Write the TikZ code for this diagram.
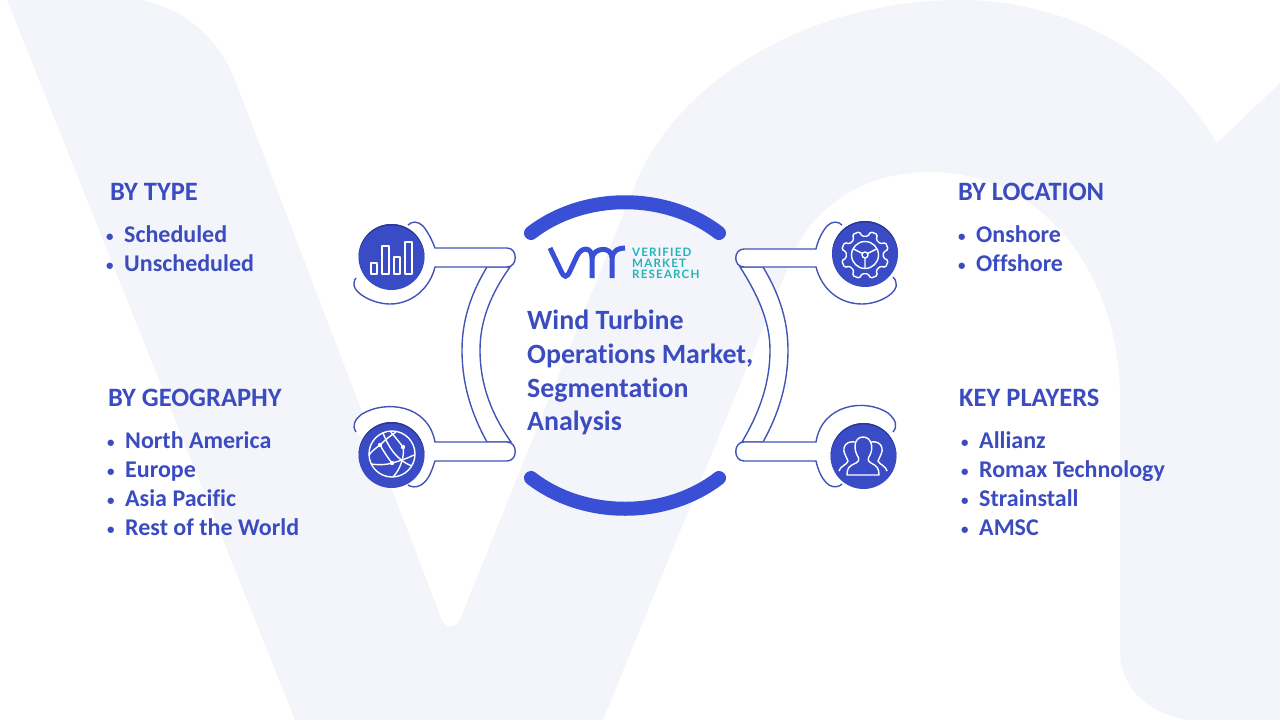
\documentclass[tikz,border=0pt]{standalone}
\usepackage{fontspec}
\setmainfont[Ligatures=CommonOff]{Carlito}
\newfontfamily\logofont[LetterSpace=10]{Lato Bold}
\usetikzlibrary{positioning}
\definecolor{bgtint}{HTML}{F3F5FB}
\definecolor{inkblue}{HTML}{3B4BC0}
\definecolor{arcblue}{HTML}{384FD6}
\definecolor{discblue}{HTML}{3A4BC6}
\definecolor{discdark}{HTML}{2A3794}
\definecolor{lineblue}{HTML}{4354B8}
\definecolor{logoteal}{HTML}{22B5B8}
\tikzset{
    head/.style = {anchor=base west,inner sep=0pt,text=inkblue,font=\fontsize{26.5}{30}\selectfont\bfseries},
    entry/.style = {anchor=base west,inner sep=0pt,text=inkblue,font=\fontsize{24}{28}\selectfont\bfseries},
    title/.style = {anchor=north west,inner sep=0pt,align=left,text=inkblue,font=\fontsize{27.9}{33.7}\selectfont\bfseries},
    brand/.style = {anchor=base west,inner sep=0pt,text=logoteal,font=\fontsize{11.6}{12}\logofont},
    disc/.style = {circle,fill=discblue,minimum size=66pt,inner sep=0pt,
      path picture={\draw[discdark,line width=3pt] ([yshift=-1.5pt]path picture bounding box.center) circle (34.5);}},
    handle/.style = {draw=lineblue,line width=1.4pt,fill=white},
    bigarc/.style = {draw=arcblue,line width=14pt,line cap=round},
    logoline/.style = {draw=arcblue,line width=5pt},
    glyph/.style = {draw=white,line width=1.4pt,line join=round}
}
\newcommand{\itm}[2]{\makebox[#1pt][l]{\raisebox{1pt}{\fontsize{15}{15}\selectfont •}}#2}
\begin{document}
\begin{tikzpicture}[x=1pt,y=-1pt]
\useasboundingbox (0,0) rectangle (1280,720);
% backdrop
\fill[bgtint] (7,0) -- (140,0) .. controls (185,8) and (218,38) .. (235,80) -- (440,615)
  .. controls (444,630) and (456,630) .. (461,617) -- (640,173)
  .. controls (690,70) and (820,0) .. (960,0) .. controls (1070,0) and (1165,55) .. (1217,143)
  -- (1280,83) -- (1280,720) -- (1190,720) .. controls (1150,715) and (1120,690) .. (1120,650)
  -- (1120,400) .. controls (1120,270) and (1040,172) .. (930,172)
  .. controls (870,172) and (820,200) .. (795,250) -- (603,720) -- (295,720) -- cycle;
% tubes
\draw[handle] (487,267) .. controls (470,295) and (462,322) .. (462,350) .. controls (462,385) and (472,415) .. (487,442)
  -- (511,442) .. controls (492,415) and (480,385) .. (480,350) .. controls (480,322) and (490,295) .. (510,267) -- cycle;
\draw[handle] (763,267) .. controls (780,295) and (788,322) .. (788,350) .. controls (788,385) and (778,415) .. (763,442)
  -- (742,442) .. controls (758,415) and (770,385) .. (770,350) .. controls (770,322) and (758,295) .. (740,267) -- cycle;
% handles
\draw[handle] (408,225) .. controls (412,221) and (418,221) .. (423,226) .. controls (428,232) and (432,240) .. (435,248)
  -- (507,248) .. controls (518,248) and (518,267) .. (507,267) -- (435,267)
  .. controls (430,288) and (412,304) .. (390,304) .. controls (372,304) and (352,292) .. (354,283) .. controls (354,281) and (355,279) .. (356,278);
\draw[handle] (356,432) .. controls (352,426) and (354,420) .. (362,414) .. controls (385,400) and (428,404) .. (435,442)
  -- (507,442) .. controls (518,442) and (518,461) .. (507,461) -- (435,461)
  .. controls (432,470) and (429,480) .. (421,485) .. controls (416,488) and (411,487) .. (408,485);
\draw[handle] (842,225) .. controls (838,221) and (832,221) .. (827,226) .. controls (822,232) and (818,240) .. (816,249)
  -- (744,249) .. controls (733,249) and (733,267) .. (744,267) -- (816,267)
  .. controls (822,290) and (840,304) .. (862,304) .. controls (880,304) and (899,292) .. (896,283) .. controls (896,281) and (895,279) .. (893,277);
\draw[handle] (893,432) .. controls (898,426) and (896,420) .. (888,413) .. controls (865,398) and (822,404) .. (816,442)
  -- (744,442) .. controls (733,442) and (733,461) .. (744,461) -- (816,461)
  .. controls (818,470) and (822,480) .. (829,485) .. controls (834,488) and (839,487) .. (842,484);
% big arcs
\draw[bigarc] (531,233) .. controls (584,192) and (666,192) .. (719,233);
\draw[bigarc] (531,478) .. controls (584,519) and (666,519) .. (719,478);
% discs
\node[disc] at (391.5,257) (bars) {};
\node[disc] at (391.5,455) (globe) {};
\node[disc] at (865,254) (gear) {};
\node[disc] at (863.5,456) (people) {};
% bars icon
\draw[glyph] (371,263) rectangle (377,274);
\draw[glyph] (382,246) rectangle (389,274);
\draw[glyph] (394,257) rectangle (400,274);
\draw[glyph] (405,242) rectangle (412,274);
% globe icon
\draw[glyph] (392,454) circle (23);
\draw[glyph] (380,445) .. controls (385,440) and (390,436) .. (396,432);
\draw[glyph] (380,445) .. controls (384,452) and (388,458) .. (392,463);
\draw[glyph] (371,464) .. controls (378,465) and (386,465) .. (392,463) .. controls (400,461) and (408,458) .. (414,455);
\draw[glyph] (369,455) .. controls (372,451) and (376,448) .. (380,445);
\draw[glyph] (390,431) .. controls (396,438) and (400,443) .. (403,447) .. controls (405,456) and (400,470) .. (393,477);
\draw[glyph] (383,433) .. controls (388,446) and (396,460) .. (412,466);
\fill[white] (380,445) circle (2.2) (403,447) circle (2.2) (392,463) circle (2.2);
% gear icon
\draw[glyph,rounded corners=1.5pt,shift={(865,255)}] (0:18) \foreach \a in {22.5,67.5,...,337.5} { -- (\a-13:19) -- (\a-9:24) -- (\a+9:24) -- (\a+13:19)} -- cycle;
\draw[glyph] (865,255) circle (13.5);
\draw[glyph] (865,255) circle (3);
\draw[glyph] (865,258) -- (865,268) (862.5,253.5) -- (853.5,249) (867.5,253.5) -- (876.5,249);
% people icon
\draw[glyph] (847,475) .. controls (847,468) and (849,466) .. (856,463) .. controls (860,461) and (859,458) .. (857,455)
  .. controls (853,447) and (855,437) .. (863,437) .. controls (871,437) and (874,447) .. (870,455)
  .. controls (868,458) and (867,461) .. (871,463) .. controls (877,466) and (879,468) .. (879,475) -- cycle;
\draw[glyph] (839,471) .. controls (840,466) and (847,465) .. (848,461) .. controls (846,456) and (843,452) .. (844,448) .. controls (845,443) and (850,441) .. (855,442);
\draw[glyph] (887,471) .. controls (886,466) and (880,465) .. (878,461) .. controls (880,456) and (883,452) .. (882,448) .. controls (881,443) and (876,441) .. (871,442);
% logo
\draw[logoline] (550,248) -- (561,271) .. controls (564,278) and (567,278) .. (570,271) -- (577,256) .. controls (581,247) and (592,246) .. (592,258) -- (592,278);
\draw[logoline] (592,258) .. controls (594,247) and (612,246) .. (612,258) -- (612,278);
\draw[logoline] (612,258) .. controls (613,250) and (619,248) .. (625,248);
\node[brand] at (632,256) (verified) {VERIFIED};
\node[brand] at (632,267) (market) {MARKET};
\node[brand] at (632,278) (research) {RESEARCH};
% title
\node[title] at (527,310) (headline) {Wind Turbine\\Operations Market,\\Segmentation\\Analysis};
% by type
\node[head] at (110,200) (bytype) {BY TYPE};
\node[entry] at (106,242) (scheduled) {\itm{18}{Scheduled}};
\node[entry] at (106,271) (unscheduled) {\itm{18}{Unscheduled}};
% by geography
\node[head] at (108,406) (bygeo) {BY GEOGRAPHY};
\node[entry] at (107,448) (namerica) {\itm{18}{North America}};
\node[entry] at (107,477) (europe) {\itm{18}{Europe}};
\node[entry] at (107,506) (apac) {\itm{18}{Asia Pacific}};
\node[entry] at (107,535) (row) {\itm{18}{Rest of the World}};
% by location
\node[head] at (958,200) (byloc) {BY LOCATION};
\node[entry] at (958,242) (onshore) {\itm{18}{Onshore}};
\node[entry] at (958,271) (offshore) {\itm{18}{Offshore}};
% key players
\node[head] at (959,406) (keyplayers) {KEY PLAYERS};
\node[entry] at (961,448) (allianz) {\itm{18}{Allianz}};
\node[entry] at (961,477) (romax) {\itm{18}{Romax Technology}};
\node[entry] at (961,506) (strainstall) {\itm{18}{Strainstall}};
\node[entry] at (961,535) (amsc) {\itm{18}{AMSC}};
\end{tikzpicture}
\end{document}
